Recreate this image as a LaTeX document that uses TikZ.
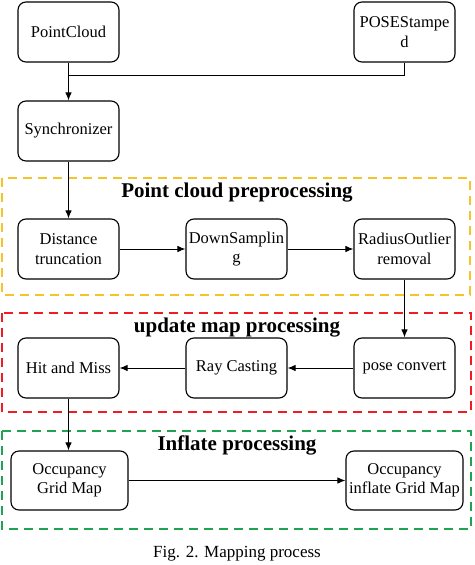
\documentclass[tikz,border=0pt]{standalone}
\usepackage{fontspec}
\setmainfont{Liberation Serif}
\usetikzlibrary{arrows.meta}
\definecolor{amarillo}{HTML}{F5C32A}
\definecolor{rojo}{HTML}{EE1C25}
\definecolor{verde}{HTML}{22A354}
\tikzset{
  caja/.style={draw, rounded corners=8pt, line width=1.1pt, minimum width=101pt,
    minimum height=60pt, align=center, inner sep=1pt, font=\fontsize{16.5}{19.5}\selectfont},
  flecha/.style={line width=1pt, -{Latex[length=8pt,width=6.5pt]}},
  linea/.style={line width=1pt},
  grupo/.style={dashed, line width=2.2pt, dash pattern=on 9pt off 6pt},
  titulo/.style={font=\fontsize{21}{24}\selectfont\bfseries}
}
\begin{document}
\begin{tikzpicture}[x=1pt, y=-1pt]
      \useasboundingbox[fill=white] (0,0) rectangle (474,565);

      % Recuadros de las etapas
      \draw[grupo, amarillo] (2,178) rectangle (470,295);
      \draw[grupo, rojo] (2,313) rectangle (471,412);
      \draw[grupo, verde] (2,431) rectangle (471,529);
      \node[titulo] (tpre) at (237,193) {Point cloud preprocessing};
      \node[titulo] (tmap) at (237,328) {update map processing};
      \node[titulo] (tinf) at (237,445) {Inflate processing};

      % Entradas
      \node[caja] (pc) at (68.5,32) {PointCloud};
      \node[caja] (ps) at (404.5,32) {POSEStampe\\d};
      \node[caja] (sync) at (68.5,131) {Synchronizer};

      % Preprocesado
      \node[caja] (dist) at (68.5,249) {Distance\\truncation};
      \node[caja] (down) at (236.5,249) {DownSamplin\\g};
      \node[caja] (rad) at (404.5,249) {RadiusOutlier\\removal};

      % Actualizacion del mapa
      \node[caja] (hit) at (68.5,368) {Hit and Miss};
      \node[caja] (ray) at (236.5,368) {Ray Casting};
      \node[caja] (conv) at (404.5,368) {pose convert};

      % Inflado
      \node[caja, minimum width=117pt, minimum height=59pt] (ogm) at (69.5,480.5) {Occupancy\\Grid Map};
      \node[caja, minimum width=117pt, minimum height=59pt] (oim) at (404.5,480.5) {Occupancy\\inflate Grid Map};

      % Conexiones
      \coordinate (union) at (68.5,75);
      \draw[flecha] (pc.south) -- (sync.north);
      \draw[linea] (ps.south) |- (union);
      \draw[flecha] (sync.south) -- (dist.north);
      \draw[flecha] (dist) -- (down);
      \draw[flecha] (down) -- (rad);
      \draw[flecha] (rad.south) -- (conv.north);
      \draw[flecha] (conv) -- (ray);
      \draw[flecha] (ray) -- (hit);
      \draw[flecha] (hit.south) -- (hit.south |- ogm.north);
      \draw[flecha] (ogm) -- (oim);

      % Pie de figura
      \node[font=\fontsize{17}{20}\selectfont] (pie) at (237,554) {Fig. 2. Mapping process};
    \end{tikzpicture}
\end{document}
